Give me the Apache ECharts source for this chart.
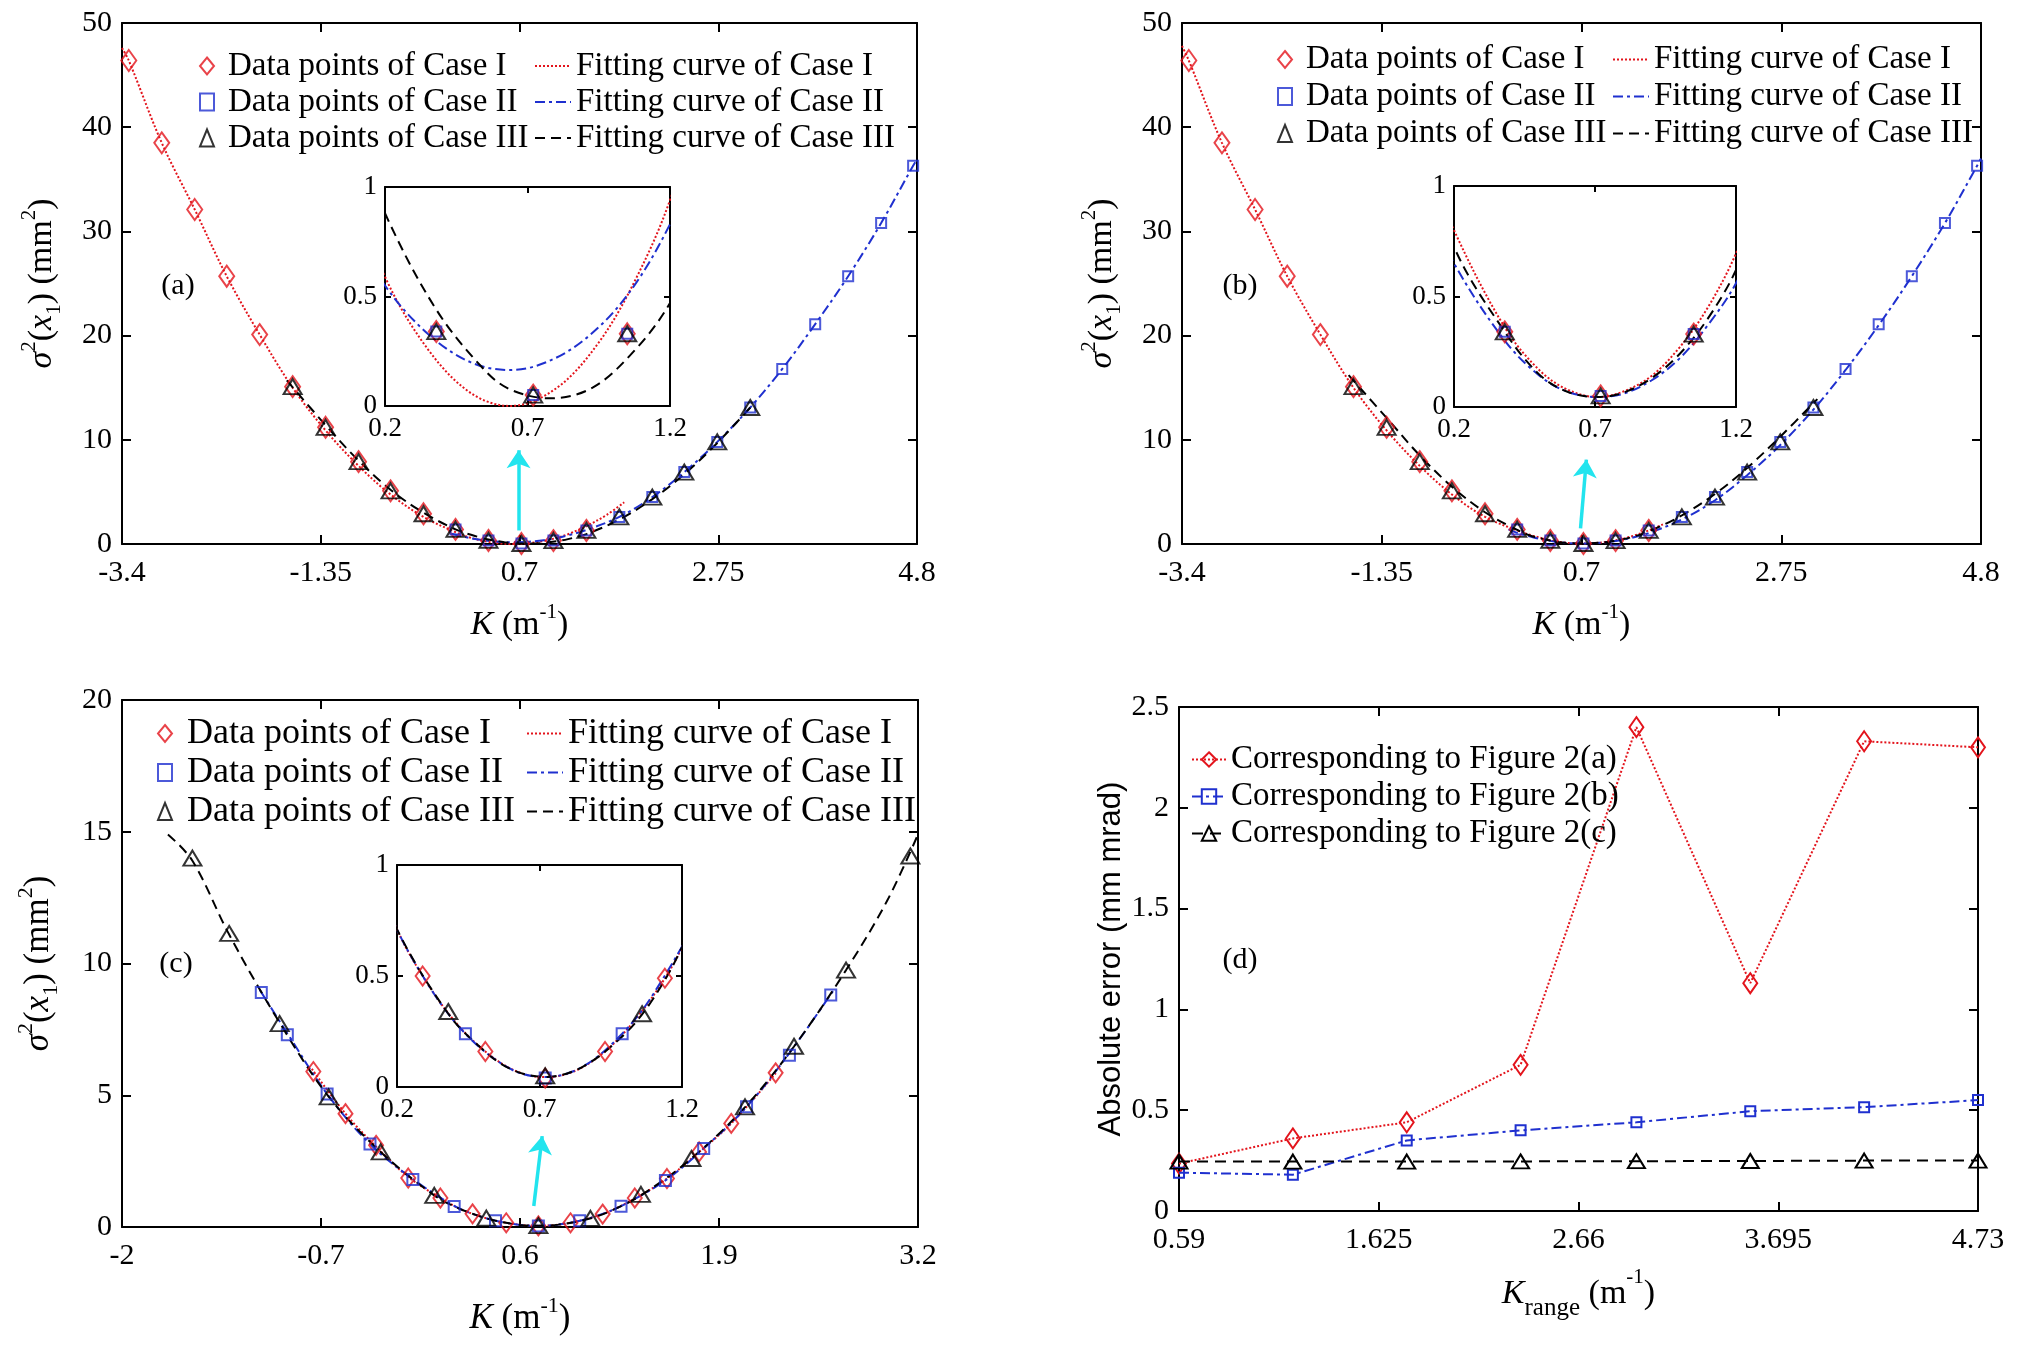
<!DOCTYPE html>
<html><head><meta charset="utf-8">
<script src="https://cdn.jsdelivr.net/npm/echarts@6/dist/echarts.min.js"></script>
<style>html,body{margin:0;padding:0;background:#fff}#c{width:2020px;height:1356px}</style>
</head><body><div id="c"></div>
<script>
// ---------- Panels (a) and (b): data points ----------
const abK_I   = [-3.33,-2.99,-2.65,-2.32,-1.98,-1.64,-1.30,-0.96,-0.63,-0.29,0.04,0.38,0.72,1.05,1.39];
const abV_I   = [46.4,38.5,32.1,25.7,20.1,15.1,11.2,7.9,5.1,2.9,1.4,0.34,0.05,0.33,1.3];
const abK_II  = [0.04,0.38,0.72,1.05,1.39,1.73,2.07,2.40,2.74,3.08,3.41,3.75,4.09,4.43,4.76];
const abV_II  = [1.4,0.34,0.05,0.33,1.3,2.6,4.5,6.9,9.8,13.1,16.8,21.1,25.7,30.8,36.3];
const abK_III = [-1.64,-1.30,-0.96,-0.63,-0.29,0.04,0.38,0.72,1.05,1.39,1.73,2.07,2.40,2.74,3.08];
const abV_III = [15.1,11.2,7.9,5.1,2.9,1.4,0.34,0.05,0.33,1.3,2.6,4.5,6.9,9.8,13.1];
// Panel (a) fitting curves [K, sigma^2]
const aFitI   = [[-3.4,47.6],[-3.33,46.4],[-2.99,38.5],[-2.65,32.1],[-2.32,25.7],[-1.98,20.1],[-1.64,15.0],[-1.30,10.9],[-0.96,7.5],[-0.63,4.75],[-0.29,2.6],[0.04,1.14],[0.2,0.59],[0.35,0.26],[0.5,0.06],[0.64,0.0],[0.8,0.08],[0.95,0.29],[1.08,0.58],[1.2,0.94],[1.4,1.76],[1.6,2.8],[1.78,4.0]];
const aFitII  = [[0.0,0.98],[0.2,0.55],[0.35,0.33],[0.5,0.2],[0.64,0.164],[0.8,0.22],[0.95,0.36],[1.08,0.56],[1.2,0.83],[1.39,1.35],[1.73,2.6],[2.07,4.5],[2.40,6.9],[2.74,9.8],[3.08,13.1],[3.41,16.8],[3.75,21.1],[4.09,25.7],[4.43,30.8],[4.76,36.3],[4.8,36.9]];
const aFitIII = [[-1.70,15.7],[-1.30,11.4],[-0.96,8.0],[-0.63,5.2],[-0.29,3.0],[0.04,1.4],[0.2,0.88],[0.38,0.44],[0.545,0.17],[0.64,0.075],[0.78,0.035],[0.93,0.085],[1.08,0.26],[1.2,0.47],[1.39,0.95],[1.73,2.35],[2.07,4.3],[2.40,6.7],[2.74,9.7],[3.10,13.3]];
// Panel (b) fitting curves
const bFitI   = [[-3.4,47.8],[-3.33,46.4],[-2.99,38.5],[-2.65,32.1],[-2.32,25.7],[-1.98,20.1],[-1.64,15.0],[-1.30,10.9],[-0.96,7.5],[-0.63,4.75],[-0.29,2.6],[0.04,1.3],[0.2,0.80],[0.38,0.36],[0.5,0.17],[0.6,0.08],[0.71,0.045],[0.8,0.07],[0.9,0.14],[1.0,0.27],[1.1,0.45],[1.2,0.695],[1.39,1.3],[1.55,1.95]];
const bFitII  = [[-0.05,1.4],[0.04,1.07],[0.2,0.65],[0.38,0.3],[0.5,0.145],[0.6,0.07],[0.71,0.045],[0.8,0.06],[0.9,0.12],[1.0,0.22],[1.1,0.37],[1.2,0.56],[1.39,1.05],[1.73,2.35],[2.07,4.2],[2.40,6.6],[2.74,9.5],[3.08,12.9],[3.41,16.7],[3.75,21.0],[4.09,25.7],[4.43,30.8],[4.76,36.3],[4.8,37.0]];
const bFitIII = [[-1.69,16.2],[-1.30,12.1],[-0.96,8.5],[-0.63,5.5],[-0.29,3.05],[0.04,1.35],[0.2,0.725],[0.38,0.34],[0.5,0.15],[0.6,0.07],[0.71,0.045],[0.8,0.065],[0.9,0.13],[1.0,0.24],[1.1,0.4],[1.2,0.62],[1.39,1.2],[1.73,2.75],[2.07,4.8],[2.40,7.3],[2.74,10.3],[3.12,13.9]];
// ---------- Panel (c) ----------
const cK_I   = [-0.75,-0.54,-0.34,-0.13,0.08,0.29,0.51,0.72,0.93,1.14,1.35,1.56,1.77,1.98,2.27];
const cV_I   = [5.9,4.3,3.1,1.86,1.1,0.5,0.16,0.04,0.16,0.49,1.1,1.84,2.85,3.93,5.85];
const cK_II  = [-1.09,-0.92,-0.66,-0.38,-0.10,0.17,0.44,0.72,0.99,1.26,1.55,1.80,2.08,2.36,2.63];
const cV_II  = [8.9,7.3,5.05,3.15,1.8,0.78,0.24,0.04,0.24,0.79,1.76,2.98,4.56,6.52,8.8];
const cK_III = [-1.54,-1.30,-0.97,-0.65,-0.31,0.04,0.38,0.72,1.06,1.39,1.72,2.07,2.39,2.73,3.15];
const cV_III = [14.0,11.14,7.72,4.94,2.85,1.2,0.34,0.05,0.33,1.24,2.6,4.56,6.86,9.75,14.08];
const cFitI   = [[-0.76,6.0],[-0.54,4.3],[-0.34,3.05],[-0.13,1.9],[0.08,1.1],[0.2,0.71],[0.29,0.5],[0.4,0.3],[0.51,0.16],[0.62,0.07],[0.72,0.045],[0.82,0.07],[0.93,0.16],[1.04,0.31],[1.14,0.49],[1.2,0.63],[1.35,1.08],[1.56,1.84],[1.77,2.85],[1.98,3.93],[2.28,5.9]];
const cFitII  = [[-1.10,9.0],[-0.92,7.35],[-0.66,5.05],[-0.38,3.15],[-0.10,1.82],[0.17,0.8],[0.3,0.48],[0.44,0.24],[0.6,0.08],[0.72,0.045],[0.85,0.09],[0.99,0.24],[1.1,0.42],[1.26,0.79],[1.55,1.77],[1.80,2.98],[2.08,4.56],[2.36,6.6],[2.65,9.0]];
const cFitIII = [[-1.70,14.9],[-1.54,13.9],[-1.30,11.1],[-0.97,7.75],[-0.65,4.95],[-0.31,2.85],[0.04,1.2],[0.2,0.71],[0.38,0.33],[0.5,0.17],[0.6,0.08],[0.72,0.045],[0.85,0.09],[1.0,0.24],[1.1,0.40],[1.2,0.63],[1.39,1.2],[1.72,2.6],[2.07,4.55],[2.39,6.85],[2.73,9.75],[3.0,12.4],[3.2,14.9]];
// ---------- Panel (d) ----------
const dK    = [0.59,1.18,1.77,2.36,2.96,3.55,4.14,4.73];
const dErrA = [0.235,0.36,0.44,0.725,2.40,1.13,2.33,2.30];
const dErrB = [0.19,0.18,0.35,0.40,0.44,0.495,0.515,0.55];
const dErrC = [0.245,0.245,0.245,0.246,0.247,0.248,0.25,0.25];
// ---------- Tick labels ----------
const abXTicks = [-3.4,-1.35,0.7,2.75,4.8];
const abYTicks = [0,10,20,30,40,50];
const cXTicks  = [-2,-0.7,0.6,1.9,3.2];
const cYTicks  = [0,5,10,15,20];
const dXTicks  = [0.59,1.625,2.66,3.695,4.73];
const dYTicks  = [0,0.5,1,1.5,2,2.5];
const insXTicks = [0.2,0.7,1.2];
const insYTicks = [0,0.5,1];
// ---------- Text ----------
const nameData = ['Data points of Case I','Data points of Case II','Data points of Case III'];
const nameFit  = ['Fitting curve of Case I','Fitting curve of Case II','Fitting curve of Case III'];
const nameD    = ['Corresponding to Figure 2(a)','Corresponding to Figure 2(b)','Corresponding to Figure 2(c)'];
const panelLabels = ['(a)','(b)','(c)','(d)'];

const SERIF = "'Liberation Serif','Times New Roman',serif";
const SANS = "'Liberation Sans',Arial,sans-serif";
const RED = '#e3141c', BLUE = '#1f30cf', BLACK = '#000000', CYAN = '#22e4ee';
const DASH_DOT = [10,4,3,4], DASHED = [10,6];

const grids = [], xAxes = [], yAxes = [], series = [], legends = [], graphics = [];

function addGrid(rect, inset) {
  grids.push(Object.assign({show: !!inset, backgroundColor: '#fff', borderWidth: 0, z: inset ? 10 : 0}, rect));
  return grids.length - 1;
}
function nameStyle(fs, fam, subFs, lhMul) {
  const lh = Math.round(fs * (lhMul || 1.35)), s = Math.round(fs * 0.62), sb = subFs || s;
  return {fontFamily: fam, fontSize: fs, color: '#000', lineHeight: lh,
    rich: {
      i: {fontFamily: fam, fontSize: fs, fontStyle: 'italic', lineHeight: lh, color: '#000'},
      n: {fontFamily: fam, fontSize: fs, lineHeight: lh, color: '#000'},
      sup: {fontFamily: fam, fontSize: s, verticalAlign: 'top', lineHeight: s, color: '#000'},
      sub: {fontFamily: fam, fontSize: sb, verticalAlign: 'bottom', lineHeight: sb, color: '#000'}
    }};
}
function addAxes(g, o) {
  const z = o.z || 0;
  const mk = (pos, min, max, ticks, lab, margin) => ({
    type: 'value', gridIndex: g, position: pos, min: min, max: max, z: z,
    axisLine: {show: true, onZero: false, lineStyle: {color: '#000', width: o.lw}},
    axisTick: {show: true, inside: true, length: o.tl, customValues: ticks, lineStyle: {color: '#000', width: o.lw}},
    axisLabel: {show: lab, customValues: ticks, formatter: v => String(v), fontFamily: SERIF, fontSize: o.fs, color: '#000', margin: margin},
    splitLine: {show: false}
  });
  const x1 = mk('bottom', o.xr[0], o.xr[1], o.xt, true, o.xm);
  if (o.xname) Object.assign(x1, {name: o.xname, nameLocation: 'middle', nameGap: o.xgap, nameTextStyle: o.xns});
  const x2 = mk('top', o.xr[0], o.xr[1], o.xt, false, 0);
  xAxes.push(x1, x2);
  const y1 = mk('left', o.yr[0], o.yr[1], o.yt, true, o.ym);
  if (o.yname) Object.assign(y1, {name: o.yname, nameLocation: 'middle', nameGap: o.ygap, nameTextStyle: o.yns});
  const y2 = mk('right', o.yr[0], o.yr[1], o.yt, false, 0);
  yAxes.push(y1, y2);
  return {xi: xAxes.length - 2, yi: yAxes.length - 2};
}
function pts(K, V) { return K.map((k, i) => [k, V[i]]); }
function scatter(name, ax, data, sym, size, color, z) {
  series.push({type: 'scatter', name: name, xAxisIndex: ax.xi, yAxisIndex: ax.yi, data: data,
    symbol: sym, symbolSize: size, z: z, silent: true, clip: true,
    itemStyle: {color: 'rgba(255,255,255,0)', borderColor: color, borderWidth: 2}});
}
function curve(name, ax, data, color, type, z, extra) {
  series.push(Object.assign({type: 'line', name: name, xAxisIndex: ax.xi, yAxisIndex: ax.yi, data: data,
    symbol: 'none', smooth: 0.35, clip: true, silent: true, z: z,
    lineStyle: {color: color, width: 2, type: type}, itemStyle: {color: color}}, extra || {}));
}
function arrow(from, to) {
  return {markLine: {silent: true, symbol: ['none', 'arrow'], symbolSize: 18, label: {show: false},
    itemStyle: {color: CYAN}, lineStyle: {color: CYAN, width: 3.5, type: 'solid'}, emphasis: {disabled: true},
    data: [[{coord: from}, {coord: to}]]}};
}

const kName = '{i|K} (m{sup|-1})';
const sigName = '{i|σ}{sup|2}({i|x}{sub|1}) (mm{sup|2})';
const mainOpt = (xr, xt, yr, yt, xgap, ygap, fsn) => ({xr, xt, yr, yt, lw: 2, tl: 9, fs: 30, xm: 14, ym: 10,
  xname: kName, xgap: xgap, xns: nameStyle(fsn, SERIF), yname: sigName, ygap: ygap, yns: nameStyle(fsn, SERIF)});
const insOpt = () => ({xr: [0.2, 1.2], xt: insXTicks, yr: [0, 1], yt: insYTicks, lw: 2, tl: 6, fs: 27, xm: 9, ym: 8, z: 11});

// marker sizes
const SZ_AB = {d: [15, 21], s: 10, t: [18, 15]};
const SZ_C  = {d: [14, 19], s: 11, t: [18, 15]};

function panelCurves(ax, sz, I, II, III, fits, z0, arrowFT) {
  curve(nameFit[0], ax, fits[0], RED, 'dotted', z0);
  curve(nameFit[1], ax, fits[1], BLUE, DASH_DOT, z0);
  curve(nameFit[2], ax, fits[2], BLACK, DASHED, z0, arrowFT ? arrow(arrowFT[0], arrowFT[1]) : null);
  scatter(nameData[0], ax, I, 'diamond', sz.d, RED, z0 + 1);
  scatter(nameData[1], ax, II, 'rect', sz.s, BLUE, z0 + 1);
  scatter(nameData[2], ax, III, 'triangle', sz.t, BLACK, z0 + 1);
}

// ----- Panel (a) -----
const gA = addGrid({left: 122, top: 23, width: 795, height: 521});
const axA = addAxes(gA, mainOpt([-3.4, 4.8], abXTicks, [0, 50], abYTicks, 58, 57, 34));
const abI = pts(abK_I, abV_I), abII = pts(abK_II, abV_II), abIII = pts(abK_III, abV_III);
panelCurves(axA, SZ_AB, abI, abII, abIII, [aFitI, aFitII, aFitIII], 2, [[0.69, 1.3], [0.69, 9.0]]);
const gAi = addGrid({left: 385, top: 187, width: 285, height: 219}, true);
const axAi = addAxes(gAi, insOpt());
panelCurves(axAi, SZ_AB, abI, abII, abIII, [aFitI, aFitII, aFitIII], 12);

// ----- Panel (b) -----
const gB = addGrid({left: 1182, top: 23, width: 799, height: 521});
const axB = addAxes(gB, mainOpt([-3.4, 4.8], abXTicks, [0, 50], abYTicks, 58, 57, 34));
panelCurves(axB, SZ_AB, abI, abII, abIII, [bFitI, bFitII, bFitIII], 2, [[0.69, 1.5], [0.75, 8.1]]);
const gBi = addGrid({left: 1454, top: 186, width: 282, height: 221}, true);
const axBi = addAxes(gBi, insOpt());
panelCurves(axBi, SZ_AB, abI, abII, abIII, [bFitI, bFitII, bFitIII], 12);

// ----- Panel (c) -----
const gC = addGrid({left: 122, top: 700, width: 796, height: 527});
const axC = addAxes(gC, mainOpt([-2, 3.2], cXTicks, [0, 20], cYTicks, 68, 60, 35));
const cI = pts(cK_I, cV_I), cII = pts(cK_II, cV_II), cIII = pts(cK_III, cV_III);
panelCurves(axC, SZ_C, cI, cII, cIII, [cFitI, cFitII, cFitIII], 2, [[0.69, 0.8], [0.745, 3.45]]);
const gCi = addGrid({left: 397, top: 865, width: 285, height: 222}, true);
const axCi = addAxes(gCi, insOpt());
panelCurves(axCi, SZ_C, cI, cII, cIII, [cFitI, cFitII, cFitIII], 12);

// ----- Panel (d) -----
const gD = addGrid({left: 1179, top: 707, width: 799, height: 504});
const axD = addAxes(gD, {xr: [0.59, 4.73], xt: dXTicks, yr: [0, 2.5], yt: dYTicks, lw: 2, tl: 9, fs: 30, xm: 14, ym: 10,
  xname: '{i|K}{sub|range} (m{sup|-1})', xgap: 56, xns: nameStyle(34, SERIF, 25, 1.6),
  yname: 'Absolute error (mm mrad)', ygap: 52, yns: {fontFamily: SANS, fontSize: 31, color: '#000'}});
const dSeries = [[dErrA, RED, 'dotted', 'diamond', [14, 20]], [dErrB, BLUE, DASH_DOT, 'rect', 10], [dErrC, BLACK, [11, 7], 'triangle', [17, 14]]];
dSeries.forEach((s, i) => {
  series.push({type: 'line', name: nameD[i], xAxisIndex: axD.xi, yAxisIndex: axD.yi, data: pts(dK, s[0]),
    symbol: s[3], symbolSize: s[4], showSymbol: true, z: 3 + i, silent: true,
    lineStyle: {color: s[1], width: 2, type: s[2]},
    itemStyle: {color: 'rgba(255,255,255,0)', borderColor: s[1], borderWidth: 2}});
});

// ----- Legends -----
const lgText = (fs, lh, padL) => ({fontFamily: SERIF, fontSize: fs, lineHeight: lh, color: '#000', padding: [0, 0, 0, padL || 0]});
function legendPair(dl, dt, fl, fs, lh, padL) {
  legends.push({orient: 'vertical', left: dl, top: dt, padding: 0, itemGap: 0, itemWidth: 14, itemHeight: 17,
    selectedMode: false, data: nameData, textStyle: lgText(fs, lh, padL)});
  legends.push({orient: 'vertical', left: fl, top: dt, padding: 0, itemGap: 0, itemWidth: 36, itemHeight: 14,
    selectedMode: false, data: nameFit, textStyle: lgText(fs, lh, 0),
    itemStyle: {color: 'rgba(0,0,0,0)', borderColor: 'rgba(0,0,0,0)', borderWidth: 0}});
}
legendPair(199, 48, 534, 33, 36, 9);
legendPair(1277, 41, 1612, 33, 37, 9);
legendPair(157, 714, 526, 36, 39, 10);
legends.push({orient: 'vertical', left: 1191, top: 741, padding: 0, itemGap: 0, itemWidth: 34, itemHeight: 18,
  selectedMode: false, data: nameD, textStyle: lgText(33, 37, 0)});

// ----- Panel labels -----
[[178, 286], [1240, 286], [176, 964], [1240, 960]].forEach((p, i) => {
  graphics.push({type: 'text', x: p[0], y: p[1], z: 20, silent: true,
    style: {text: panelLabels[i], fill: '#000', font: '30px ' + SERIF, textAlign: 'center', textVerticalAlign: 'middle', align: 'center', verticalAlign: 'middle'}});
});

const chart = echarts.init(document.getElementById('c'), null, {renderer: 'canvas'});
chart.setOption({animation: false, backgroundColor: '#fff', textStyle: {fontFamily: SERIF},
  grid: grids, xAxis: xAxes, yAxis: yAxes, legend: legends, series: series, graphic: graphics});
</script></body></html>
